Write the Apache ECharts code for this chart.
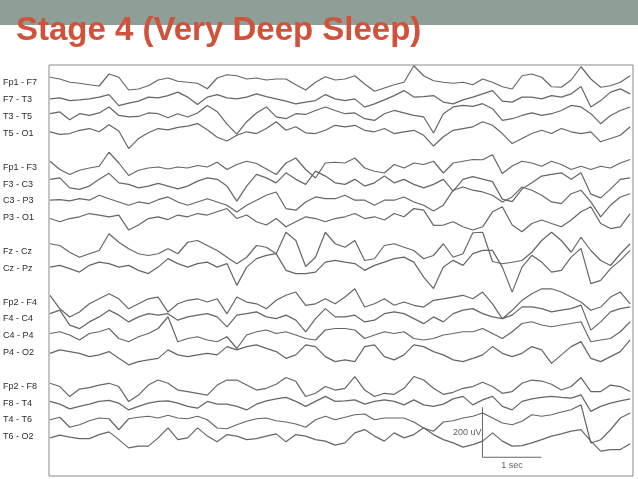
<!DOCTYPE html>
<html><head><meta charset="utf-8">
<script src="https://cdn.jsdelivr.net/npm/echarts@6/dist/echarts.min.js"></script>
<style>html,body{margin:0;padding:0;background:#fff}#c{width:638px;height:479px}</style>
</head><body><div id="c"></div>
<script>
// Channel names (bipolar montage) and their row slots
const channelNames = ['Fp1 - F7','F7 - T3','T3 - T5','T5 - O1','Fp1 - F3','F3 - C3','C3 - P3','P3 - O1','Fz - Cz','Cz - Pz','Fp2 - F4','F4 - C4','C4 - P4','P4 - O2','Fp2 - F8','F8 - T4','T4 - T6','T6 - O2'];
const rowSlots = [0,1,2,3,5,6,7,8,10,11,13,14,15,16,18,19,20,21];
const sampleDt = 1/6; // seconds between readings
// Readings in microvolts, one per sampleDt
const fp1F7 = [23,16,3,-1,-7,-12,36,23,-28,-24,-11,12,20,7,3,-1,-23,20,33,29,16,20,12,16,16,-7,-28,3,25,12,16,29,-4,-33,-20,-7,3,69,29,9,3,-1,3,-7,16,3,-15,-24,29,36,23,-15,-17,12,65,16,-17,-11,3,29];
const f7T3 = [4,8,-3,0,4,11,21,-23,-13,-5,11,8,17,31,11,-19,11,21,8,4,11,24,13,4,-5,-16,-9,-3,21,4,-3,4,-29,-16,0,17,37,11,13,17,-9,-16,0,11,24,37,-5,-9,11,11,4,17,11,24,53,-29,-3,31,44,24];
const t3T5 = [12,19,-12,12,5,15,39,5,-1,1,15,12,-4,12,-1,15,45,20,-30,-70,-20,15,39,-1,-8,12,9,25,39,25,12,15,-8,-15,12,25,15,5,-1,-65,12,39,45,41,52,32,-15,-8,5,15,5,12,25,45,39,12,-28,5,25,39];
const t5O1 = [7,-3,0,13,20,7,35,10,-60,-20,3,20,15,25,30,40,15,-15,-30,-7,7,0,20,47,13,27,3,0,13,33,27,33,13,7,20,0,7,13,-7,-50,-13,13,20,27,47,33,0,-40,-20,0,13,0,20,7,0,7,-33,-20,-7,27];
const fp1F3 = [24,-9,-29,-12,-3,4,60,17,-33,-12,-3,1,-7,1,-3,7,1,20,-9,11,24,15,-7,-29,17,37,-9,-43,17,20,17,37,-3,-16,-23,11,-3,17,11,24,-23,17,24,31,30,50,-25,5,24,17,4,24,11,-9,4,-9,4,-3,17,31];
const f3C3 = [19,25,-15,-21,-8,19,43,5,-1,-15,-8,3,-8,-19,-8,12,25,19,-8,-68,-8,39,25,5,45,19,-1,52,32,5,-1,19,-8,5,32,5,19,-1,-15,-1,19,-28,19,30,20,10,-60,-70,-20,5,32,39,45,19,45,-40,-55,-20,19,25];
const c3P3 = [3,5,0,9,3,23,9,-4,-17,-4,-11,5,16,-4,-17,-4,9,-4,-17,-44,-17,3,23,36,-31,-37,-4,16,9,9,23,3,3,-17,3,3,16,-4,-17,-40,-17,43,56,43,36,23,-4,16,56,43,23,-4,-11,29,43,-4,-64,-17,16,29];
const p3O1 = [-3,-16,-3,4,17,11,4,11,-49,-29,-3,4,-7,11,4,17,11,24,37,-3,11,-16,-29,-3,-36,-16,4,-3,-16,-3,4,17,-3,4,-9,17,4,37,31,-30,-29,-16,-36,-49,-36,24,44,-29,-56,-23,-9,-23,-36,-9,24,44,-23,-43,-36,17];
const fzCz = [31,24,-3,-23,-9,4,71,37,11,-9,-16,-9,11,-9,37,44,24,4,-23,-49,-23,24,17,-9,77,44,-60,-23,77,31,17,44,-36,-29,24,31,17,4,-29,-16,31,-23,-9,75,77,-40,-49,-43,-36,-3,44,77,44,-3,57,4,-36,-56,-9,31];
const czPz = [5,12,-1,-15,12,25,19,5,12,-8,-21,5,39,19,5,19,25,5,19,-68,5,39,52,59,-8,-21,-21,-15,25,32,25,19,-8,12,25,39,45,25,-35,-81,5,32,12,59,72,72,5,-95,5,52,25,-15,-8,45,80,-61,-48,-1,32,72];
const fp2F4 = [27,-27,-60,-40,-7,13,33,13,-27,-7,13,20,-40,-7,7,13,0,13,-47,20,0,-7,-27,7,27,40,-13,-7,13,-7,20,53,-20,-7,13,-13,0,-13,-20,7,13,20,27,13,40,-7,-67,-33,7,33,53,53,40,20,0,-33,-20,20,40,-7];
const f4C4 = [21,35,-25,-39,-12,8,35,15,-12,8,21,15,21,-5,8,15,21,8,-32,15,21,28,8,1,15,-5,-52,1,41,8,8,15,-12,-5,21,28,21,1,-19,8,-12,21,35,41,21,8,1,15,48,48,41,28,35,41,55,-45,-12,28,41,48];
const c4P4 = [9,16,3,-17,9,16,29,-11,-24,-4,9,29,76,-24,-11,-4,-17,-24,-4,-51,3,16,23,9,16,3,-11,-17,23,29,29,23,-11,3,16,9,16,-11,-17,-11,3,9,16,16,29,9,-11,16,49,56,43,36,43,49,56,-24,-17,-11,16,56];
const p4O2 = [-3,11,4,-3,-16,-9,4,-23,-49,-36,-29,-23,11,-9,-16,-9,-3,-9,24,11,24,31,17,4,-23,-9,31,24,-16,-36,-29,-36,24,31,-16,-29,-9,31,24,4,-9,-29,-36,-23,-9,24,-3,-16,-3,24,11,-43,-9,24,44,-23,-36,-16,4,51];
const fp2F8 = [12,-1,-41,-11,-5,5,12,-1,-61,-35,5,25,12,-15,-21,-28,-35,5,25,25,5,-15,-8,8,35,20,-41,-28,-1,-15,-8,39,-15,-41,-28,-32,-8,39,25,-8,-32,-24,-8,-1,16,-1,-28,-21,12,25,21,8,-15,-1,35,-21,-21,5,-1,-21];
const f8T4 = [7,-4,-23,-13,-4,7,11,0,-27,-13,0,7,9,0,-13,-20,7,-4,-4,-13,-27,-4,9,17,23,7,-13,7,27,7,9,13,-4,7,13,7,-7,13,-7,-13,-4,17,27,-7,13,27,-13,-27,7,17,23,27,23,20,33,-33,-13,0,9,17];
const t4T6 = [1,11,-29,-19,-3,8,5,-39,5,11,15,8,19,8,5,15,1,-32,-35,-19,-5,5,8,-3,-8,-16,-29,1,15,1,11,21,24,1,8,8,8,-8,-32,-45,-8,-3,8,15,28,8,-12,-19,-5,21,15,21,32,41,61,-92,-79,-39,8,28];
const t6O2 = [-4,7,-1,-7,-7,9,20,-11,-44,-37,-37,-4,36,-11,-4,36,3,-20,9,3,-11,-7,3,12,-20,9,3,-11,-17,-33,-24,16,29,3,-17,16,-4,9,36,9,-11,-24,-41,-31,-17,16,-17,-37,-35,-24,-11,3,12,23,29,-17,-57,-51,-51,-28];
// Calibration bar
const scaleMicroVolts = 200;
const scaleSeconds = 1;

const traces = [fp1F7,f7T3,t3T5,t5O1,fp1F3,f3C3,c3P3,p3O1,fzCz,czPz,fp2F4,f4C4,c4P4,p4O2,fp2F8,f8T4,t4T6,t6O2];
const ROW_UV = 67.4;           // vertical offset between rows, in µV
const baselines = rowSlots.map(s => -s * ROW_UV);
const labelByBase = {};
baselines.forEach((b, k) => { labelByBase[b.toFixed(2)] = channelNames[k]; });

const series = traces.map((vals, k) => ({
  type: 'line', name: channelNames[k], symbol: 'none', silent: true,
  lineStyle: {color: '#666666', width: 1.2},
  data: vals.map((v, i) => [i * sampleDt, v + baselines[k]])
}));

const barT0 = 7.33, barBase = -1497;
series.push({
  type: 'line', symbol: 'none', silent: true,
  lineStyle: {color: '#666', width: 1},
  data: [[barT0, barBase + scaleMicroVolts], [barT0, barBase], [barT0 + scaleSeconds, barBase]]
});
series.push({
  type: 'scatter', symbolSize: 0, silent: true,
  data: [
    {value: [barT0, barBase + scaleMicroVolts / 2], label: {show: true, position: 'left', distance: 1, formatter: scaleMicroVolts + ' uV'}},
    {value: [barT0 + scaleSeconds / 2, barBase], label: {show: true, position: 'bottom', distance: 4, formatter: scaleSeconds + ' sec'}}
  ],
  label: {color: '#333', fontSize: 9, fontFamily: 'Liberation Sans'}
});

const chart = echarts.init(document.getElementById('c'), null, {renderer: 'canvas'});
chart.setOption({
  animation: false,
  backgroundColor: '#fff',
  graphic: [{type: 'rect', left: 0, top: 0, z: -1, shape: {width: 638, height: 25}, style: {fill: '#8d9f97'}}],
  title: {
    text: 'Stage 4 (Very Deep Sleep)', left: 11, top: 9,
    textStyle: {color: '#d0523a', fontSize: 33, fontWeight: 'bold', fontFamily: 'Liberation Sans'}
  },
  grid: {left: 49, top: 65, width: 584, height: 411, show: true, borderColor: '#8a8a8a', borderWidth: 1, backgroundColor: 'transparent'},
  xAxis: {type: 'value', min: -1 / 59, max: 583 / 59, show: false},
  yAxis: {
    type: 'value', min: -1572, max: 72,
    axisLine: {show: false}, axisTick: {show: false}, splitLine: {show: false},
    axisLabel: {
      customValues: baselines, align: 'left', margin: 46,
      color: '#2a2a2a', fontSize: 9, fontFamily: 'Liberation Sans',
      formatter: v => labelByBase[Number(v).toFixed(2)] || ''
    }
  },
  series: series
});
</script></body></html>
